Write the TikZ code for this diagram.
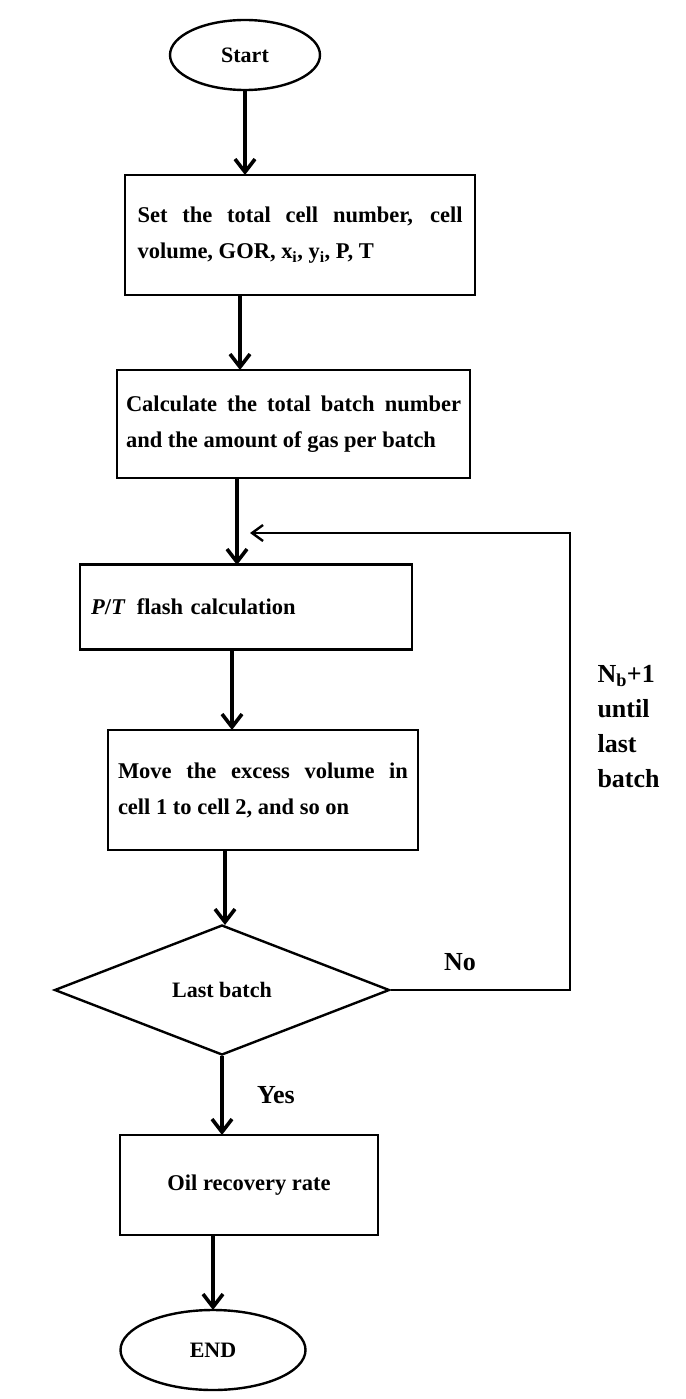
\documentclass[tikz,border=0pt]{standalone}
\usepackage{fontspec}
\setmainfont{Liberation Serif}
\usetikzlibrary{shapes.geometric,arrows.meta}
\begin{document}
\begin{tikzpicture}[x=1pt,y=-1pt,
  box/.style={draw,line width=2.4pt,font=\bfseries\fontsize{22.5}{36}\selectfont},
  oval/.style={draw,ellipse,line width=2.4pt,font=\bfseries\fontsize{22}{26}\selectfont},
  arr/.style={line width=3.6pt,-{Straight Barb[length=13pt,width=20pt,line width=3.6pt]}},
  lbl/.style={font=\bfseries\fontsize{26}{35}\selectfont}]
\useasboundingbox (0,0) rectangle (685,1399);
\node[oval,minimum width=150,minimum height=70] (start) at (245,55) {Start};
\node[box,minimum width=350,minimum height=120,text width=325,align=justify] (b1) at (300,235) {\hyphenpenalty=10000 Set the total cell number, cell\linebreak volume, GOR, x\textsubscript{i}, y\textsubscript{i}, P, T};
\node[box,minimum width=353,minimum height=108,text width=335,align=justify] (b2) at (293.5,424) {\hyphenpenalty=10000 Calculate the total batch number\linebreak and the amount of gas per batch};
\node[box,minimum width=332,minimum height=85,text width=310,align=left] (b3) at (246,607) {\textit{P}/\textit{T} \,flash calculation};
\node[box,minimum width=310,minimum height=120,text width=290,align=justify] (b4) at (263,790) {\hyphenpenalty=10000 Move the excess volume in\linebreak cell 1 to cell 2, and so on};
\node[draw,diamond,aspect=2.58,line width=2.4pt,minimum width=335,minimum height=130,inner sep=0pt,font=\bfseries\fontsize{22}{26}\selectfont] (d) at (222,990) {Last batch};
\node[box,minimum width=258,minimum height=100] (b5) at (249,1185) {Oil recovery rate};
\node[oval,minimum width=185,minimum height=80] (end) at (213,1350) {END};
\coordinate (c1) at (570,990);
\coordinate (c2) at (570,533);
\coordinate (c3) at (250,533);
\draw[arr] (start.south) -- (245,175);
\draw[arr] (240,295) -- (240,370);
\draw[arr] (237,478) -- (237,565);
\draw[arr] (232,650) -- (232,730);
\draw[arr] (225,850) -- (225,925);
\draw[arr] (d.south) -- (222,1135);
\draw[arr] (213,1235) -- (213,1310);
\draw[line width=2.4pt,-{Straight Barb[length=11pt,width=16pt,line width=2.4pt]}] (d.east) -- (c1) -- (c2) -- (c3);
\node[lbl] (no) at (460,962) {No};
\node[lbl] (yes) at (276,1095) {Yes};
\node[lbl,align=left,anchor=north west] (nb) at (594,662) {N\textsubscript{b}+1\\until\\last\\batch};
\end{tikzpicture}
\end{document}
